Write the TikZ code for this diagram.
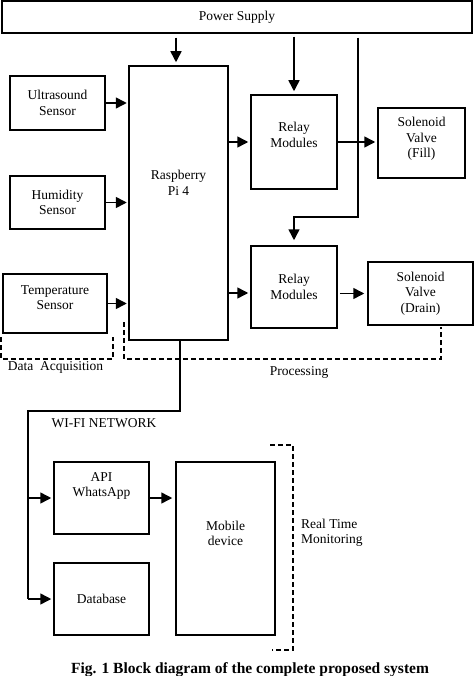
\documentclass[tikz,border=0pt]{standalone}
\usepackage{fontspec}
\setmainfont{Liberation Serif}
\usetikzlibrary{arrows.meta}
\begin{document}
\begin{tikzpicture}[x=1pt,y=-1pt,
  box/.style={draw, line width=1.5pt, rectangle, inner sep=0pt, align=center, font=\fontsize{13.5}{15.5}\selectfont},
  txt/.style={inner sep=0pt, align=center, font=\fontsize{13.5}{15.5}\selectfont},
  arr/.style={line width=1.5pt, -{Triangle[length=11pt,width=11pt]}},
  ln/.style={line width=1.5pt},
  dsh/.style={line width=1.5pt, dash pattern=on 5pt off 3pt}]
\useasboundingbox (0,0) rectangle (474,676);
% boxes
\node[box, minimum width=470pt, minimum height=32pt] (ps) at (237,17) {Power Supply};
\node[box, minimum width=99pt, minimum height=274pt] (rpi) at (178.5,203) {};
\node[txt] (rpitxt) at ([yshift=20pt]rpi.center) {Raspberry\\Pi 4};
\node[box, minimum width=95pt, minimum height=54pt] (us) at (57.5,103) {Ultrasound\\Sensor};
\node[box, minimum width=95pt, minimum height=53pt] (hum) at (57.5,202.5) {Humidity\\Sensor};
\node[box, minimum width=104pt, minimum height=59pt] (temp) at (55,303.5) {};
\node[txt] (temptxt) at ([yshift=6pt]temp.center) {Temperature\\Sensor};
\node[box, minimum width=86pt, minimum height=94pt] (rel1) at (294,142) {};
\node[txt] (rel1txt) at ([yshift=7pt]rel1.center) {Relay\\Modules};
\node[box, minimum width=87pt, minimum height=70pt] (fill) at (421.5,143) {};
\node[txt] (filltxt) at ([yshift=4pt]fill.center) {Solenoid\\Valve\\(Fill)};
\node[box, minimum width=86pt, minimum height=82pt] (rel2) at (294,287) {Relay\\Modules};
\node[box, minimum width=105pt, minimum height=63pt] (drain) at (420.5,293.5) {Solenoid\\Valve\\(Drain)};
\node[box, minimum width=95pt, minimum height=72pt] (api) at (101.5,498) {};
\node[txt] (apitxt) at ([yshift=12pt]api.center) {API\\WhatsApp};
\node[box, minimum width=99pt, minimum height=173pt] (mob) at (225.5,548.5) {};
\node[txt] (mobtxt) at ([yshift=15pt]mob.center) {Mobile\\device};
\node[box, minimum width=95pt, minimum height=72pt] (db) at (101.5,599) {Database};
% labels
\node[txt] (da) at (55.5,367) {Data\ \ Acquisition};
\node[txt] (proc) at (299,372) {Processing};
\node[txt] (wifi) at (104,423) {WI-FI NETWORK};
\node[txt, align=left, anchor=west] (rtm) at (301,533) {Real Time\\Monitoring};
\node[inner sep=0pt, anchor=base, font=\bfseries\fontsize{15.5}{18}\selectfont] (cap) at (250,673) {Fig. 1 Block diagram of the complete proposed system};
% power connectors
\draw[arr, shorten <=4pt, shorten >=3pt] ([xshift=-2.5pt]rpi.north |- ps.south) -- ([xshift=-2.5pt]rpi.north);
\draw[arr, shorten <=3pt, shorten >=3pt] (ps.south -| rel1.north) -- (rel1.north);
\coordinate (j) at (358,217);
\draw[arr, shorten <=4pt, shorten >=5pt] (ps.south -| j) -- (j) -| (rel2.north);
% sensors
\draw[arr, shorten >=1.5pt] (us.east) -- (us.east -| rpi.west);
\draw[arr, shorten >=1.5pt] (hum.east) -- (hum.east -| rpi.west);
\draw[arr, shorten >=1.5pt] (temp.east) -- (temp.east -| rpi.west);
% processing
\draw[arr, shorten >=2pt] (rel1.west -| rpi.east) -- (rel1.west);
\draw[arr, shorten >=2pt] (rel1.east) -- (rel1.east -| fill.west);
\draw[arr, shorten >=2pt] ([yshift=-6pt]rel2.west -| rpi.east) -- ([yshift=-6pt]rel2.west);
\draw[arr, shorten <=2pt, shorten >=3pt] (rel2.east |- drain.west) -- (drain.west);
% wifi
\coordinate (w1) at (28,411);
\draw[ln] ([xshift=1.5pt]rpi.south) |- (w1) -- (w1 |- db.west);
\draw[arr, shorten >=2pt] (w1 |- api.west) -- (api.west);
\draw[arr, shorten >=2pt] (w1 |- db.west) -- (db.west);
\draw[arr, shorten >=3pt] (api.east) -- (api.east -| mob.west);
% dashed groups
\draw[dsh] (1,337) -- (1,359) -- (113,359) -- (113,337);
\draw[dsh] (124,322) -- (124,359) -- (441,359) -- (441,327);
\draw[dsh] (270,445) -- (293,445) -- (293,650) -- (272,650);
\end{tikzpicture}
\end{document}
